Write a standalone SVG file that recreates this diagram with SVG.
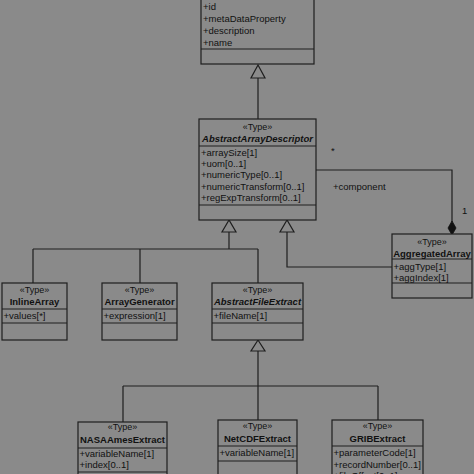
<svg xmlns="http://www.w3.org/2000/svg" width="474" height="474" viewBox="0 0 474 474">
<style>
.box{fill:#8a8a8a;stroke:#1e1e1e;stroke-width:1.2}
.ln{fill:none;stroke:#1e1e1e;stroke-width:1.2}
.tri{fill:#8a8a8a;stroke:#1e1e1e;stroke-width:1.2}
text{font-family:"Liberation Sans",Arial,sans-serif;fill:#111}
.st{font-size:9px;text-anchor:middle}
.nm{font-size:9.5px;font-weight:bold;text-anchor:middle}
.ab{font-style:italic}
.at{font-size:9.5px}
.lb{font-size:9.5px}
</style>
<rect width="474" height="474" fill="#8a8a8a"/>
<g id="connectors">
<path class="ln" d="M258 78V119"/>
<polygon class="tri" points="258,65 251,78 265,78"/>
<path class="ln" d="M229 232V249M33 249H258M33 249V283M140 249V283M258 249V283"/>
<polygon class="tri" points="229,220 222,232 236,232"/>
<path class="ln" d="M392 267H287V232"/>
<polygon class="tri" points="287,220 280,232 294,232"/>
<path class="ln" d="M316 170H452V222"/>
<polygon points="452,221 456,228 452,235 448,228" fill="#111" stroke="#111" stroke-width="0.8"/>
<text class="lb" x="331" y="154">*</text>
<text class="lb" x="333" y="190">+component</text>
<text class="lb" x="462" y="214">1</text>
<path class="ln" d="M258 351V420M123 386H378M123 386V422M378 386V420"/>
<polygon class="tri" points="258,340 251,351 265,351"/>
</g>
<g id="TopClass">
<rect class="box" x="201" y="-2" width="113" height="66"/>
<line class="ln" x1="201" y1="49" x2="314" y2="49"/>
<text class="at" x="203" y="9.5">+id</text>
<text class="at" x="203" y="21.5">+metaDataProperty</text>
<text class="at" x="203" y="33.5">+description</text>
<text class="at" x="203" y="45.5">+name</text>
</g>
<g id="AbstractArrayDescriptor">
<rect class="box" x="199" y="119" width="117" height="101"/>
<line class="ln" x1="199" y1="146" x2="316" y2="146"/>
<line class="ln" x1="199" y1="205" x2="316" y2="205"/>
<text class="st" x="257.5" y="129.5">«Type»</text>
<text class="nm ab" x="257.5" y="142">AbstractArrayDescriptor</text>
<text class="at" x="201" y="156">+arraySize[1]</text>
<text class="at" x="201" y="167">+uom[0..1]</text>
<text class="at" x="201" y="178">+numericType[0..1]</text>
<text class="at" x="201" y="189.5">+numericTransform[0..1]</text>
<text class="at" x="201" y="201">+regExpTransform[0..1]</text>
</g>
<g id="AggregatedArray">
<rect class="box" x="392" y="234" width="80" height="64"/>
<line class="ln" x1="392" y1="259" x2="472" y2="259"/>
<line class="ln" x1="392" y1="283" x2="472" y2="283"/>
<text class="st" x="432" y="245">«Type»</text>
<text class="nm" x="432" y="256.5">AggregatedArray</text>
<text class="at" x="393.5" y="270">+aggType[1]</text>
<text class="at" x="393.5" y="281">+aggIndex[1]</text>
</g>
<g id="InlineArray">
<rect class="box" x="2" y="283" width="65" height="57"/>
<line class="ln" x1="2" y1="309" x2="67" y2="309"/>
<line class="ln" x1="2" y1="323" x2="67" y2="323"/>
<text class="st" x="34.5" y="293">«Type»</text>
<text class="nm" x="34.5" y="305">InlineArray</text>
<text class="at" x="3.5" y="318.5">+values[*]</text>
</g>
<g id="ArrayGenerator">
<rect class="box" x="102" y="283" width="75" height="57"/>
<line class="ln" x1="102" y1="309" x2="177" y2="309"/>
<line class="ln" x1="102" y1="323" x2="177" y2="323"/>
<text class="st" x="139.5" y="293">«Type»</text>
<text class="nm" x="139.5" y="305">ArrayGenerator</text>
<text class="at" x="103.5" y="318.5">+expression[1]</text>
</g>
<g id="AbstractFileExtract">
<rect class="box" x="212" y="283" width="91" height="57"/>
<line class="ln" x1="212" y1="309" x2="303" y2="309"/>
<line class="ln" x1="212" y1="323" x2="303" y2="323"/>
<text class="st" x="257.5" y="293">«Type»</text>
<text class="nm ab" x="257.5" y="305">AbstractFileExtract</text>
<text class="at" x="213.5" y="318.5">+fileName[1]</text>
</g>
<g id="NASAAmesExtract">
<rect class="box" x="78" y="422" width="89" height="60"/>
<line class="ln" x1="78" y1="448" x2="167" y2="448"/>
<line class="ln" x1="78" y1="472" x2="167" y2="472"/>
<text class="st" x="122.5" y="430">«Type»</text>
<text class="nm" x="122.5" y="442.5">NASAAmesExtract</text>
<text class="at" x="79.5" y="457">+variableName[1]</text>
<text class="at" x="79.5" y="468">+index[0..1]</text>
</g>
<g id="NetCDFExtract">
<rect class="box" x="218" y="420" width="79" height="60"/>
<line class="ln" x1="218" y1="446" x2="297" y2="446"/>
<line class="ln" x1="218" y1="461" x2="297" y2="461"/>
<text class="st" x="257.5" y="429">«Type»</text>
<text class="nm" x="257.5" y="442">NetCDFExtract</text>
<text class="at" x="219.5" y="456">+variableName[1]</text>
</g>
<g id="GRIBExtract">
<rect class="box" x="332" y="420" width="91" height="60"/>
<line class="ln" x1="332" y1="446" x2="423" y2="446"/>
<text class="st" x="377.5" y="429">«Type»</text>
<text class="nm" x="377.5" y="442">GRIBExtract</text>
<text class="at" x="333.5" y="456">+parameterCode[1]</text>
<text class="at" x="333.5" y="467.5">+recordNumber[0..1]</text>
<text class="at" x="333.5" y="479">+fileOffset[0..1]</text>
</g>
</svg>
